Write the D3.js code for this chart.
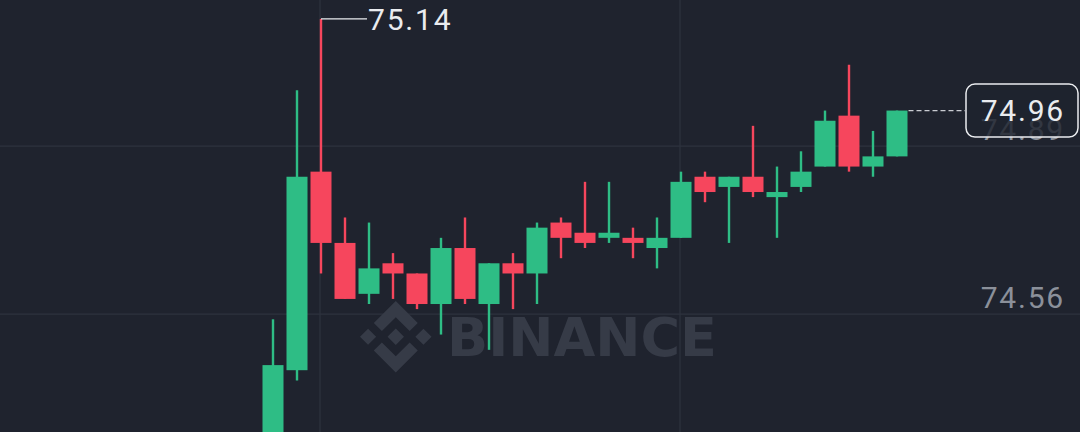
<!DOCTYPE html>
<html>
<head>
<meta charset="utf-8">
<script src="https://cdn.jsdelivr.net/npm/d3@7"></script>
<style>
html,body{margin:0;padding:0;background:#1f232e;}
svg{display:block;}
</style>
</head>
<body>
<svg id="chart" width="1080" height="432"></svg>
<script>
const opens  = [74.28,74.45,74.84,74.70,74.60,74.66,74.64,74.58,74.69,74.58,74.66,74.64,74.74,74.72,74.71,74.71,74.69,74.71,74.83,74.81,74.83,74.79,74.81,74.85,74.95,74.85,74.87];
const highs  = [74.55,75.00,75.14,74.75,74.74,74.68,74.64,74.71,74.75,74.66,74.68,74.74,74.75,74.82,74.82,74.73,74.75,74.84,74.84,74.83,74.93,74.85,74.88,74.96,75.05,74.92,74.96];
const lows   = [74.25,74.43,74.64,74.59,74.58,74.59,74.57,74.52,74.58,74.49,74.57,74.58,74.67,74.69,74.70,74.67,74.65,74.71,74.78,74.70,74.79,74.71,74.80,74.85,74.84,74.83,74.87];
const closes = [74.46,74.83,74.70,74.59,74.65,74.64,74.58,74.69,74.59,74.66,74.64,74.73,74.71,74.70,74.72,74.70,74.71,74.82,74.80,74.83,74.80,74.80,74.84,74.94,74.85,74.87,74.96];
const yTicks = [74.89, 74.56];
const lastPrice = 74.96;
const maxLabel = "75.14";

const svg = d3.select("#chart");
const W = 1080, H = 432;
const bg = "#1f232e";
const up = "#2ebd85", down = "#f6465d";
const font = "Roboto, 'Noto Sans', sans-serif";

const y = d3.scaleLinear().domain([74.56, 74.89]).range([314.2, 146.2]);
const x = d3.scaleLinear().domain([0, 1]).range([273, 297]);
const bodyW = 21;

svg.append("rect").attr("width", W).attr("height", H).attr("fill", bg);

// grid
const grid = svg.append("g").attr("stroke", "#2e333e").attr("stroke-width", 1.2);
yTicks.forEach(t => grid.append("line").attr("x1", 0).attr("x2", W).attr("y1", y(t)).attr("y2", y(t)));
[320, 680].forEach(gx => grid.append("line").attr("x1", gx).attr("x2", gx).attr("y1", 0).attr("y2", H));

// watermark
const wm = svg.append("g").attr("fill", "#363b47");
wm.append("path")
  .attr("transform", "translate(360,301) scale(0.565)")
  .attr("d", "M38.73 53.2l24.59-24.58 24.6 24.6 14.3-14.31L63.32 0 24.43 38.9l14.3 14.3zM0 63.31L14.3 49l14.31 14.31-14.31 14.3zm38.73 10.1L63.32 98l24.6-24.6 14.31 14.29-38.9 38.91-38.9-38.88-.02-.02zM98 63.31L112.3 49l14.31 14.3-14.31 14.32zM77.83 63.3L63.32 48.78 52.59 59.51l-1.24 1.23-2.54 2.54 14.51 14.5 14.51-14.52z");
wm.append("text")
  .attr("x", 447).attr("y", 356)
  .attr("font-family", "'DejaVu Sans', sans-serif")
  .attr("font-weight", 700).attr("font-size", 53)
  .attr("textLength", 270).attr("lengthAdjust", "spacingAndGlyphs")
  .text("BINANCE");

// y labels
const lab = svg.append("g")
  .attr("font-family", font).attr("letter-spacing", 1.8)
  .attr("font-size", 30).attr("fill", "#8b909a").attr("text-anchor", "end");
yTicks.forEach(t => lab.append("text").attr("x", 1065).attr("y", y(t) - 6).text(d3.format(".2f")(t)));

// candles
const data = opens.map((o, i) => ({i, o, h: highs[i], l: lows[i], c: closes[i]}));
const cg = svg.append("g");
const candle = cg.selectAll("g").data(data).join("g");
candle.append("line")
  .attr("x1", d => x(d.i)).attr("x2", d => x(d.i))
  .attr("y1", d => y(d.h)).attr("y2", d => y(d.l))
  .attr("stroke", d => d.c >= d.o ? up : down).attr("stroke-width", 2.4);
candle.append("rect")
  .attr("x", d => x(d.i) - bodyW / 2)
  .attr("width", bodyW)
  .attr("y", d => y(Math.max(d.o, d.c)))
  .attr("height", d => Math.max(1.5, Math.abs(y(d.o) - y(d.c))))
  .attr("fill", d => d.c >= d.o ? up : down);

// max label
const maxI = d3.maxIndex(highs);
const my = y(highs[maxI]);
svg.append("line").attr("x1", x(maxI)).attr("x2", 367).attr("y1", my).attr("y2", my)
  .attr("stroke", "#eaecef").attr("stroke-width", 1.3);
svg.append("text").attr("x", 368).attr("y", my).attr("dy", "0.36em")
  .attr("font-family", font).attr("font-size", 30).attr("letter-spacing", 1.8)
  .attr("fill", "#eaecef").text(maxLabel);

// last price
const ly = y(lastPrice);
const lastX = x(opens.length - 1) + bodyW / 2;
svg.append("line").attr("x1", lastX + 1).attr("x2", 965).attr("y1", ly).attr("y2", ly)
  .attr("stroke", "#c9ccd2").attr("stroke-width", 1.2).attr("stroke-dasharray", "5,3");
svg.append("rect").attr("x", 966).attr("y", ly - 26.5).attr("width", 112).attr("height", 53)
  .attr("rx", 9).attr("fill", bg).attr("fill-opacity", 0.82)
  .attr("stroke", "#eaecef").attr("stroke-width", 1.5);
svg.append("text").attr("x", 1065).attr("y", ly).attr("dy", "0.36em").attr("text-anchor", "end")
  .attr("font-family", font).attr("font-size", 30).attr("letter-spacing", 1.8)
  .attr("fill", "#eaecef").text(d3.format(".2f")(lastPrice));
</script>
</body>
</html>
